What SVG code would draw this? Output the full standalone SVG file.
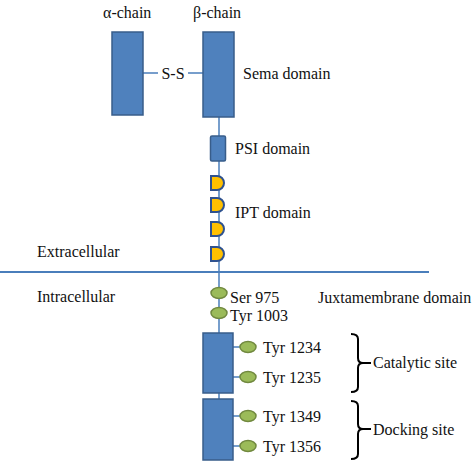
<svg xmlns="http://www.w3.org/2000/svg" width="474" height="464" viewBox="0 0 474 464">
<style>
text{font-family:'Liberation Serif','Times New Roman','DejaVu Serif',serif;font-size:16px;fill:#111}
.dom{fill:#4f81bd;stroke:#385d8a;stroke-width:1.5}
.ipt{fill:#ffc000;stroke:#2f528f;stroke-width:2}
.site{fill:#9bbb59;stroke:#71893f;stroke-width:1.5}
.ln{stroke:#4a7ebb;stroke-width:1.5;fill:none}
.br{stroke:#000;stroke-width:2;fill:none}
</style>
<rect width="474" height="464" fill="#fff"/>
<g id="connectors">
<line class="ln" x1="219" y1="117" x2="219" y2="399"/>
<line class="ln" x1="143" y1="73" x2="158" y2="73"/>
<line class="ln" x1="188" y1="73" x2="203" y2="73"/>
<line x1="0" y1="272" x2="429" y2="272" stroke="#4a7ebb" stroke-width="2"/>
<line class="ln" x1="233" y1="347" x2="240" y2="347"/>
<line class="ln" x1="233" y1="377" x2="240" y2="377"/>
<line class="ln" x1="233" y1="416" x2="240" y2="416"/>
<line class="ln" x1="233" y1="446" x2="240" y2="446"/>
</g>
<g id="alpha"><text x="103" y="18">α-chain</text><rect class="dom" x="112" y="32" width="31" height="83"/></g>
<g id="ss"><text x="173" y="79" text-anchor="middle">S-S</text></g>
<g id="beta"><text x="193" y="18">β-chain</text><rect class="dom" x="203" y="32" width="31" height="85"/><text x="243" y="79">Sema domain</text></g>
<g id="psi"><rect class="dom" x="210.5" y="136" width="15" height="25" rx="1.5"/><text x="235" y="154">PSI domain</text></g>
<g id="ipt">
<path class="ipt" d="M211,176 h6 a7,7 0 0 1 0,14 h-6 z"/>
<path class="ipt" d="M211,198 h6 a7,7 0 0 1 0,14 h-6 z"/>
<path class="ipt" d="M211,222 h6 a7,7 0 0 1 0,14 h-6 z"/>
<path class="ipt" d="M211,247 h6 a7,7 0 0 1 0,14 h-6 z"/>
<text x="235" y="218">IPT domain</text>
</g>
<g id="extra"><text x="37" y="257">Extracellular</text></g>
<g id="intra"><text x="37" y="302">Intracellular</text></g>
<g id="jm">
<ellipse class="site" cx="219" cy="293" rx="8" ry="5.5"/>
<text x="230" y="303">Ser 975</text>
<ellipse class="site" cx="219" cy="313" rx="8" ry="5.5"/>
<text x="230" y="321">Tyr 1003</text>
<text x="318" y="303">Juxtamembrane domain</text>
</g>
<g id="catalytic">
<rect class="dom" x="203" y="333" width="30" height="60"/>
<ellipse class="site" cx="248" cy="347" rx="8" ry="5.5"/>
<text x="263" y="353">Tyr 1234</text>
<ellipse class="site" cx="248" cy="377" rx="8" ry="5.5"/>
<text x="263" y="383">Tyr 1235</text>
<path class="br" d="M351,334 Q358,334 358,339 V358 Q358,363 363,363 Q358,363 358,368 V387 Q358,392 351,392"/>
<line class="br" x1="360" y1="363" x2="371" y2="363" stroke-width="1.5"/>
<text x="373" y="368">Catalytic site</text>
</g>
<g id="docking">
<rect class="dom" x="203" y="399" width="30" height="61"/>
<ellipse class="site" cx="248" cy="416" rx="8" ry="5.5"/>
<text x="263" y="422">Tyr 1349</text>
<ellipse class="site" cx="248" cy="446" rx="8" ry="5.5"/>
<text x="263" y="452">Tyr 1356</text>
<path class="br" d="M351,401 Q358,401 358,406 V424 Q358,429 363,429 Q358,429 358,434 V454 Q358,459 351,459"/>
<line class="br" x1="360" y1="429" x2="371" y2="429" stroke-width="1.5"/>
<text x="373" y="435">Docking site</text>
</g>
</svg>
